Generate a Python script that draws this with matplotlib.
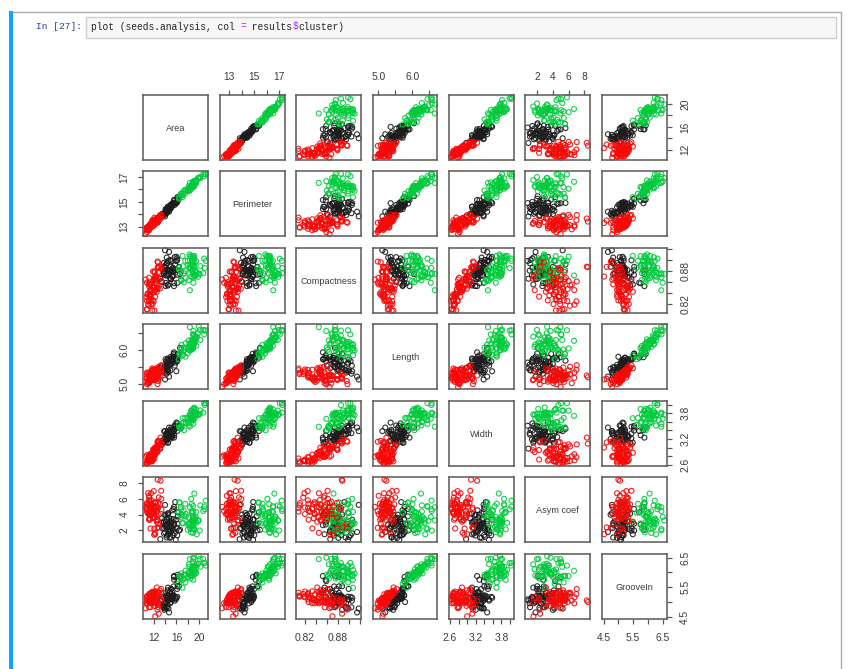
import matplotlib
matplotlib.use("Agg")
import matplotlib.pyplot as plt
from matplotlib.patches import Rectangle
import numpy as np

plt.rcParams['font.family'] = ['Liberation Sans', 'DejaVu Sans']

var_names = ["Area", "Perimeter", "Compactness", "Length", "Width", "Asym coef", "GrooveIn"]

# area, perimeter, compactness, length, width, asym, groove
black_seeds = [
    [15.26, 14.84, 0.8710, 5.763, 3.312, 2.221, 5.220], [14.88, 14.57, 0.8811, 5.554, 3.333, 1.018, 4.956],
    [14.29, 14.09, 0.9050, 5.291, 3.337, 2.699, 4.825], [13.84, 13.94, 0.8955, 5.324, 3.379, 2.259, 4.805],
    [16.14, 14.99, 0.9034, 5.658, 3.562, 1.355, 5.175], [14.38, 14.21, 0.8951, 5.386, 3.312, 2.462, 4.956],
    [14.69, 14.49, 0.8799, 5.563, 3.259, 3.586, 5.219], [14.11, 14.10, 0.8911, 5.420, 3.302, 2.700, 5.000],
    [16.63, 15.46, 0.8747, 6.053, 3.465, 2.040, 5.877], [16.44, 15.25, 0.8880, 5.884, 3.505, 1.969, 5.533],
    [15.26, 14.85, 0.8696, 5.714, 3.242, 4.543, 5.314], [14.03, 14.16, 0.8796, 5.438, 3.201, 1.717, 5.001],
    [13.89, 14.02, 0.8880, 5.439, 3.199, 3.986, 4.738], [13.78, 14.06, 0.8759, 5.479, 3.156, 3.136, 4.872],
    [13.74, 14.05, 0.8744, 5.482, 3.114, 2.932, 4.825], [14.59, 14.28, 0.8993, 5.351, 3.333, 4.185, 4.781],
    [13.99, 13.83, 0.9183, 5.119, 3.383, 5.234, 4.781], [15.69, 14.75, 0.9058, 5.527, 3.514, 1.599, 5.046],
    [14.70, 14.21, 0.9153, 5.205, 3.466, 1.767, 4.649], [14.16, 14.40, 0.8584, 5.658, 3.129, 3.072, 5.176],
    [14.11, 14.26, 0.8722, 5.520, 3.168, 2.688, 5.219], [15.88, 14.90, 0.8988, 5.618, 3.507, 0.7651, 5.091],
    [15.01, 14.76, 0.8657, 5.789, 3.245, 1.791, 5.001], [13.45, 14.02, 0.8604, 5.516, 3.065, 3.531, 5.097],
    [13.16, 13.82, 0.8662, 5.454, 2.975, 0.8551, 5.056], [15.49, 14.94, 0.8724, 5.757, 3.371, 3.412, 5.228],
    [14.09, 14.41, 0.8529, 5.717, 3.186, 3.920, 5.299], [14.49, 14.61, 0.8538, 5.715, 3.113, 4.116, 5.396],
    [14.33, 14.28, 0.8831, 5.504, 3.199, 3.328, 5.224], [14.52, 14.60, 0.8557, 5.741, 3.113, 1.481, 5.487],
    [15.03, 14.77, 0.8658, 5.702, 3.212, 1.933, 5.439], [14.46, 14.35, 0.8818, 5.388, 3.377, 2.802, 5.044],
    [14.92, 14.43, 0.9006, 5.384, 3.412, 1.142, 5.088], [15.38, 14.77, 0.8857, 5.662, 3.419, 1.999, 5.222],
    [14.86, 14.67, 0.8676, 5.678, 3.258, 2.129, 5.351], [15.78, 14.91, 0.8923, 5.674, 3.434, 5.593, 5.136],
    [14.34, 14.37, 0.8726, 5.630, 3.190, 1.313, 5.150], [14.43, 14.40, 0.8751, 5.585, 3.272, 3.975, 5.144],
    [15.50, 14.86, 0.8820, 5.877, 3.396, 4.711, 5.528], [15.11, 14.54, 0.8986, 5.579, 3.462, 3.128, 5.180],
    [13.80, 14.04, 0.8794, 5.376, 3.155, 1.560, 4.961], [15.36, 14.76, 0.8861, 5.701, 3.393, 1.367, 5.132],
    [14.99, 14.56, 0.8883, 5.570, 3.377, 2.958, 5.175], [14.79, 14.52, 0.8819, 5.545, 3.291, 2.704, 5.111],
    [16.12, 15.00, 0.9000, 5.709, 3.485, 2.270, 5.443], [15.57, 15.15, 0.8527, 5.920, 3.231, 2.640, 5.879],
    [16.23, 15.18, 0.8820, 5.872, 3.472, 3.769, 5.922], [15.60, 15.11, 0.8580, 5.832, 3.286, 2.725, 5.752],
    [15.56, 14.89, 0.8823, 5.776, 3.408, 4.972, 5.847], [15.05, 14.68, 0.8779, 5.712, 3.328, 2.800, 5.439],
    [16.20, 15.27, 0.8734, 5.826, 3.464, 2.823, 5.527], [16.17, 15.38, 0.8588, 5.762, 3.387, 4.286, 5.703],
    [15.99, 14.89, 0.9064, 5.363, 3.582, 3.336, 5.144], [13.50, 13.85, 0.8852, 5.351, 3.158, 2.249, 5.176],
    [14.28, 14.17, 0.8944, 5.397, 3.298, 1.064, 4.825], [14.02, 14.12, 0.8865, 5.480, 3.242, 2.500, 4.950],
    [14.80, 14.52, 0.8823, 5.656, 3.288, 3.112, 5.309], [15.24, 14.76, 0.8788, 5.710, 3.300, 2.450, 5.180],
    [14.64, 14.50, 0.8750, 5.600, 3.240, 1.900, 5.090], [15.10, 14.66, 0.8830, 5.640, 3.350, 3.400, 5.100],
]

green_seeds = [
    [17.63, 15.98, 0.8673, 6.191, 3.561, 4.076, 6.060], [16.84, 15.67, 0.8623, 5.998, 3.484, 4.675, 5.877],
    [17.26, 15.73, 0.8763, 5.978, 3.594, 4.539, 5.791], [19.11, 16.26, 0.9081, 6.154, 3.930, 2.936, 6.079],
    [16.82, 15.51, 0.8786, 6.017, 3.486, 4.004, 5.841], [16.77, 15.62, 0.8638, 5.927, 3.438, 4.920, 5.795],
    [17.32, 15.91, 0.8599, 6.064, 3.403, 3.824, 5.922], [20.71, 17.23, 0.8763, 6.579, 3.814, 4.451, 6.451],
    [18.94, 16.49, 0.8750, 6.445, 3.639, 5.064, 6.362], [17.12, 15.55, 0.8892, 5.850, 3.566, 2.858, 5.746],
    [16.53, 15.34, 0.8823, 5.875, 3.467, 5.532, 5.880], [18.72, 16.19, 0.8977, 6.006, 3.857, 5.324, 5.879],
    [20.20, 16.89, 0.8894, 6.285, 3.864, 5.173, 6.187], [19.57, 16.74, 0.8779, 6.384, 3.772, 1.472, 6.273],
    [19.51, 16.71, 0.8780, 6.366, 3.801, 2.962, 6.185], [18.27, 16.09, 0.8870, 6.173, 3.651, 2.443, 6.197],
    [18.88, 16.26, 0.8969, 6.084, 3.764, 1.649, 6.109], [18.98, 16.66, 0.8590, 6.549, 3.670, 3.691, 6.498],
    [21.18, 17.21, 0.8989, 6.573, 4.033, 5.780, 6.231], [20.88, 17.05, 0.9031, 6.450, 4.032, 5.016, 6.321],
    [20.10, 16.99, 0.8746, 6.581, 3.785, 1.955, 6.449], [18.76, 16.20, 0.8984, 6.172, 3.796, 3.120, 6.053],
    [18.81, 16.29, 0.8906, 6.272, 3.693, 3.237, 6.053], [18.59, 16.05, 0.9066, 6.037, 3.860, 6.001, 5.877],
    [18.36, 16.52, 0.8452, 6.666, 3.485, 4.933, 6.448], [16.87, 15.65, 0.8648, 6.139, 3.463, 3.696, 5.967],
    [19.31, 16.59, 0.8815, 6.341, 3.810, 3.477, 6.238], [18.98, 16.57, 0.8687, 6.449, 3.552, 2.144, 6.453],
    [18.17, 16.26, 0.8637, 6.271, 3.512, 2.853, 6.273], [18.72, 16.34, 0.8810, 6.219, 3.684, 2.188, 6.097],
    [16.41, 15.25, 0.8866, 5.718, 3.525, 4.217, 5.618], [17.99, 15.86, 0.8992, 5.890, 3.694, 2.068, 5.837],
    [19.46, 16.50, 0.8985, 6.113, 3.892, 4.308, 6.009], [19.18, 16.63, 0.8717, 6.369, 3.681, 3.357, 6.229],
    [18.95, 16.42, 0.8829, 6.248, 3.755, 3.368, 6.148], [18.83, 16.29, 0.8917, 6.037, 3.786, 2.553, 5.879],
    [18.85, 16.17, 0.9056, 6.152, 3.806, 2.843, 6.200], [17.63, 15.86, 0.8800, 6.033, 3.573, 3.747, 5.929],
    [19.94, 16.92, 0.8752, 6.675, 3.763, 3.252, 6.550], [18.55, 16.22, 0.8865, 6.153, 3.674, 1.738, 5.894],
    [18.45, 16.12, 0.8921, 6.107, 3.769, 2.235, 5.794], [19.38, 16.72, 0.8716, 6.303, 3.791, 3.678, 5.965],
    [19.13, 16.31, 0.9035, 6.183, 3.902, 2.109, 5.924], [19.14, 16.61, 0.8722, 6.259, 3.737, 6.682, 6.053],
    [20.97, 17.25, 0.8859, 6.563, 3.991, 4.677, 6.316], [19.06, 16.45, 0.8854, 6.416, 3.719, 2.248, 6.163],
    [18.96, 16.20, 0.9077, 6.051, 3.897, 4.334, 5.750], [19.15, 16.45, 0.8890, 6.245, 3.815, 3.084, 6.185],
    [18.14, 16.12, 0.8772, 6.059, 3.563, 3.619, 6.011], [18.65, 16.41, 0.8698, 6.285, 3.594, 4.391, 6.102],
    [17.08, 15.38, 0.9079, 5.832, 3.683, 2.956, 5.484], [18.43, 15.97, 0.9077, 5.980, 3.771, 2.984, 5.905],
    [17.55, 15.66, 0.8991, 5.791, 3.690, 5.366, 5.661], [18.30, 15.89, 0.9108, 5.979, 3.755, 2.837, 5.962],
    [16.53, 15.34, 0.8823, 5.875, 3.467, 5.532, 5.880], [18.89, 16.23, 0.9008, 6.227, 3.769, 3.639, 5.966],
    [19.18, 16.40, 0.8961, 6.220, 3.760, 3.300, 6.020], [18.75, 16.18, 0.8999, 6.111, 3.869, 4.188, 5.992],
    [19.79, 16.91, 0.8697, 6.482, 3.754, 3.200, 6.290], [18.07, 15.96, 0.8910, 6.040, 3.690, 2.700, 5.850],
]

red_seeds = [
    [13.07, 13.92, 0.8480, 5.472, 2.994, 5.304, 5.395], [13.32, 13.94, 0.8613, 5.541, 3.073, 7.035, 5.440],
    [13.34, 13.95, 0.8620, 5.389, 3.074, 5.995, 5.307], [12.22, 13.32, 0.8652, 5.224, 2.967, 5.469, 5.221],
    [11.82, 13.40, 0.8274, 5.314, 2.777, 4.471, 5.178], [11.21, 13.13, 0.8167, 5.279, 2.687, 6.169, 5.275],
    [11.43, 13.13, 0.8335, 5.176, 2.719, 2.221, 5.132], [12.49, 13.46, 0.8658, 5.267, 2.967, 4.421, 5.002],
    [12.70, 13.71, 0.8491, 5.386, 2.911, 3.260, 5.316], [10.79, 12.93, 0.8107, 5.317, 2.648, 5.462, 5.194],
    [11.83, 13.23, 0.8496, 5.263, 2.840, 5.195, 5.307], [12.01, 13.52, 0.8249, 5.405, 2.776, 6.992, 5.270],
    [12.26, 13.60, 0.8333, 5.408, 2.833, 4.756, 5.360], [11.18, 13.04, 0.8266, 5.220, 2.693, 3.332, 5.001],
    [11.36, 13.05, 0.8382, 5.175, 2.755, 4.048, 5.263], [11.19, 13.05, 0.8253, 5.250, 2.675, 5.813, 5.219],
    [11.34, 12.87, 0.8596, 5.053, 2.849, 3.347, 5.003], [12.13, 13.73, 0.8081, 5.394, 2.745, 4.825, 5.220],
    [11.75, 13.52, 0.8082, 5.444, 2.678, 4.378, 5.310], [11.49, 13.22, 0.8263, 5.304, 2.695, 5.388, 5.310],
    [12.54, 13.67, 0.8425, 5.451, 2.879, 3.082, 5.491], [12.02, 13.33, 0.8503, 5.350, 2.810, 4.271, 5.308],
    [12.05, 13.41, 0.8416, 5.267, 2.847, 4.988, 5.046], [12.55, 13.57, 0.8558, 5.333, 2.968, 4.419, 5.176],
    [11.14, 12.79, 0.8558, 5.011, 2.794, 6.388, 5.049], [12.10, 13.15, 0.8793, 5.105, 2.941, 2.201, 5.056],
    [12.44, 13.59, 0.8462, 5.319, 2.897, 4.924, 5.270], [12.15, 13.45, 0.8443, 5.417, 2.837, 3.638, 5.338],
    [11.35, 13.12, 0.8291, 5.176, 2.668, 4.337, 5.132], [11.24, 13.00, 0.8359, 5.090, 2.715, 3.521, 5.088],
    [11.02, 13.00, 0.8189, 5.325, 2.701, 6.735, 5.163], [11.55, 13.10, 0.8455, 5.167, 2.845, 6.715, 4.956],
    [11.27, 12.97, 0.8419, 5.088, 2.763, 4.309, 5.000], [11.40, 13.08, 0.8375, 5.136, 2.763, 5.588, 5.089],
    [10.83, 12.96, 0.8099, 5.278, 2.641, 5.182, 5.185], [10.80, 12.57, 0.8590, 4.981, 2.821, 4.421, 4.963],
    [11.26, 13.01, 0.8355, 5.186, 2.710, 5.335, 5.092], [10.74, 12.73, 0.8329, 5.145, 2.642, 4.702, 4.963],
    [11.48, 13.05, 0.8473, 5.180, 2.758, 5.876, 5.002], [12.21, 13.47, 0.8453, 5.357, 2.893, 1.661, 5.178],
    [11.41, 12.95, 0.8560, 5.090, 2.775, 4.957, 4.825], [12.46, 13.41, 0.8706, 5.236, 3.017, 4.987, 5.147],
    [12.19, 13.20, 0.8783, 5.137, 2.981, 3.631, 4.870], [11.65, 13.07, 0.8575, 5.108, 2.850, 5.209, 5.135],
    [12.89, 13.77, 0.8541, 5.495, 3.026, 6.185, 5.316], [11.56, 13.31, 0.8198, 5.363, 2.683, 4.062, 5.182],
    [11.81, 13.45, 0.8198, 5.413, 2.716, 4.898, 5.352], [10.91, 12.80, 0.8372, 5.088, 2.675, 4.179, 4.956],
    [11.23, 12.88, 0.8511, 5.140, 2.795, 4.325, 5.003], [10.59, 12.41, 0.8648, 4.899, 2.787, 4.975, 4.794],
    [10.93, 12.80, 0.8390, 5.046, 2.717, 5.398, 5.045], [11.27, 12.86, 0.8563, 5.091, 2.804, 3.985, 5.001],
    [11.87, 13.02, 0.8795, 5.132, 2.953, 3.597, 5.132], [10.82, 12.83, 0.8256, 5.180, 2.630, 4.853, 5.089],
    [12.11, 13.27, 0.8639, 5.236, 2.975, 4.132, 5.012], [12.80, 13.47, 0.8860, 5.160, 3.126, 4.873, 4.914],
    [12.79, 13.53, 0.8786, 5.224, 3.054, 5.483, 4.958], [13.37, 13.78, 0.8849, 5.320, 3.128, 4.670, 5.091],
    [12.62, 13.67, 0.8481, 5.410, 2.911, 3.306, 5.231], [12.76, 13.38, 0.8964, 5.073, 3.155, 2.828, 4.830],
    [12.38, 13.44, 0.8609, 5.219, 2.989, 5.472, 5.045], [12.67, 13.32, 0.8977, 4.984, 3.135, 2.300, 4.745],
    [11.18, 12.72, 0.8680, 5.009, 2.810, 4.051, 4.828], [12.70, 13.41, 0.8874, 5.183, 3.091, 8.456, 5.000],
    [12.37, 13.47, 0.8567, 5.204, 2.960, 3.919, 5.001], [13.20, 13.66, 0.8883, 5.236, 3.232, 8.315, 5.056],
    [12.88, 13.50, 0.8879, 5.139, 3.119, 2.352, 4.607], [12.30, 13.34, 0.8684, 5.243, 2.974, 5.637, 5.063],
    [12.72, 13.57, 0.8686, 5.226, 3.049, 4.102, 4.914], [12.08, 13.23, 0.8664, 5.099, 2.936, 1.415, 4.961],
    [12.26, 13.30, 0.8702, 5.120, 3.000, 1.500, 4.519], [11.84, 13.21, 0.8521, 5.175, 2.836, 3.598, 5.044],
]

cluster_colors = ["#1c1c1c", "#00cb3c", "#f80808"]

ticks = [
    [12, 14, 16, 18, 20],
    [13, 14, 15, 16, 17],
    [0.82, 0.84, 0.86, 0.88, 0.90, 0.92],
    [5.0, 5.5, 6.0, 6.5],
    [2.6, 2.8, 3.0, 3.2, 3.4, 3.6, 3.8, 4.0],
    [2, 4, 6, 8],
    [4.5, 5.0, 5.5, 6.0, 6.5],
]
tick_labels = [
    ["12", "", "16", "", "20"],
    ["13", "", "15", "", "17"],
    ["0.82", "", "", "0.88", "", ""],
    ["5.0", "", "6.0", ""],
    ["2.6", "", "", "3.2", "", "", "3.8", ""],
    ["2", "4", "6", "8"],
    ["4.5", "", "5.5", "", "6.5"],
]

W, H = 850, 669
AXIS_COL = "#5c5854"
TEXT_COL = "#3c3c3c"


def main():
    fig = plt.figure(figsize=(W / 100, H / 100), dpi=100)

    # notebook cell around the plot, in pixel coordinates
    page = fig.add_axes([0, 0, 1, 1])
    page.set_xlim(0, W)
    page.set_ylim(H, 0)
    page.axis("off")
    page.plot([13, 841.5, 841.5], [11.5, 11.5, H], color="#ababab", lw=1)
    page.add_patch(Rectangle((9, 11), 4, H - 11, color="#0fa5f5", lw=0))
    page.add_patch(Rectangle((86.5, 16.5), 750, 21, fc="#f7f7f7", ec="#cfcfcf", lw=1))
    page.text(36, 26.5, "In [27]:", family="Liberation Mono", fontsize=6.8, color="#303f9f", va="center")
    code = [("plot (seeds.analysis, col ", "#222222"), ("=", "#aa22ff"), (" results", "#222222"),
            ("$", "#aa22ff"), ("cluster)", "#222222")]
    pos = 0
    for piece, col in code:
        page.text(91 + pos * 5.75, 26.5, piece, family="Liberation Mono", fontsize=6.9, color=col, va="center")
        pos += len(piece)

    groups = [np.array(black_seeds), np.array(green_seeds), np.array(red_seeds)]
    all_seeds = np.vstack(groups)
    lows = all_seeds.min(axis=0)
    highs = all_seeds.max(axis=0)
    pad = (highs - lows) * 0.04

    n = len(var_names)
    for row in range(n):
        for col in range(n):
            left = 143.3 + col * 76.4
            top = 95 + row * 76.45
            ax = fig.add_axes([left / W, 1 - (top + 65) / H, 65 / W, 65 / H])
            ax.set_xlim(lows[col] - pad[col], highs[col] + pad[col])
            ax.set_ylim(lows[row] - pad[row], highs[row] + pad[row])
            for spine in ax.spines.values():
                spine.set_color(AXIS_COL)
                spine.set_linewidth(1.1)

            if row == col:
                ax.text(0.5, 0.485, var_names[row], transform=ax.transAxes, ha="center", va="center",
                        fontsize=6.6, color=TEXT_COL)
            else:
                for seeds, color in zip(groups, cluster_colors):
                    ax.scatter(seeds[:, col], seeds[:, row], s=13, facecolors="none",
                               edgecolors=color, linewidths=0.8, clip_on=False, alpha=0.9)

            show_x_top = row == 0 and col % 2 == 1
            show_x_bottom = row == n - 1 and col % 2 == 0
            show_y_left = col == 0 and row % 2 == 1
            show_y_right = col == n - 1 and row % 2 == 0

            if show_x_top or show_x_bottom:
                ax.set_xticks(ticks[col])
                ax.set_xticklabels(tick_labels[col])
                ax.set_xlim(lows[col] - pad[col], highs[col] + pad[col])
            else:
                ax.set_xticks([])
            if show_y_left or show_y_right:
                ax.set_yticks(ticks[row])
                ax.set_yticklabels(tick_labels[row], rotation=90, va="center")
                ax.set_ylim(lows[row] - pad[row], highs[row] + pad[row])
            else:
                ax.set_yticks([])

            ax.tick_params(axis="x", top=show_x_top, labeltop=show_x_top, bottom=show_x_bottom,
                           labelbottom=show_x_bottom, length=3.8, width=0.9, color=AXIS_COL,
                           labelsize=7.4, labelcolor=TEXT_COL, pad=5.5 if show_x_top else 6.5)
            ax.tick_params(axis="y", left=show_y_left, labelleft=show_y_left, right=show_y_right,
                           labelright=show_y_right, length=3.8, width=0.9, color=AXIS_COL,
                           labelsize=7.4, labelcolor=TEXT_COL, pad=6)

    fig.savefig("out.png", dpi=100)


if __name__ == "__main__":
    main()
